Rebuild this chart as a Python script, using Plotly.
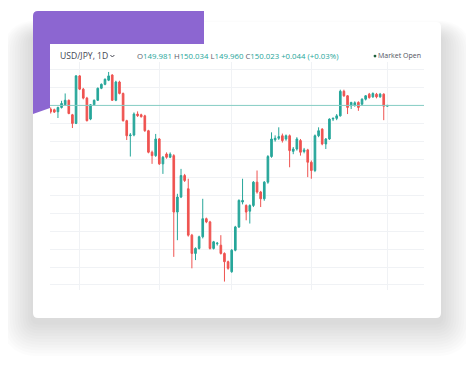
import plotly.graph_objects as go

# ---------------- data ----------------
opens = [149.81, 149.78, 149.67, 149.91, 150.06, 150.31, 149.50, 149.02, 151.67, 150.93,
         150.43, 149.26, 150.06, 150.31, 150.98, 151.20, 151.43, 151.72, 150.31, 151.33,
         150.69, 149.17, 148.33, 148.37, 149.54, 149.50, 149.44, 148.61, 147.41, 147.22,
         148.15, 146.76, 147.31, 147.13, 147.22, 144.07, 144.91, 146.11, 145.37, 142.78,
         141.76, 142.04, 142.69, 143.70, 143.52, 142.04, 142.30, 142.22, 141.76, 141.30,
         140.74, 141.94, 143.24, 144.63, 144.44, 144.12, 144.44, 145.74, 145.19, 144.81,
         145.74, 147.17, 148.10, 148.19, 148.33, 148.15, 148.33, 147.46, 147.59, 148.06,
         147.45, 147.54, 146.85, 146.39, 148.33, 148.70, 147.87, 148.15, 149.26, 149.30,
         149.44, 150.81, 150.56, 150.00, 150.02, 150.19, 150.09, 150.37, 150.65, 150.50,
         150.65, 150.50, 150.65, 149.981]
highs = [149.91, 149.84, 149.95, 150.28, 150.69, 150.35, 149.55, 151.72, 151.72, 151.00,
         150.50, 150.10, 150.35, 151.02, 151.25, 151.53, 151.89, 151.76, 151.40, 151.40,
         150.74, 149.22, 148.48, 149.63, 149.69, 149.56, 149.50, 148.66, 147.50, 148.43,
         148.20, 147.20, 147.40, 147.40, 147.30, 145.09, 146.48, 146.20, 145.93, 142.85,
         142.10, 142.75, 144.81, 143.76, 143.58, 142.46, 142.40, 142.78, 141.82, 141.36,
         142.00, 143.30, 144.78, 145.93, 144.50, 144.50, 145.80, 146.39, 145.25, 145.80,
         147.25, 148.52, 148.35, 148.80, 148.45, 148.40, 148.40, 147.70, 148.25, 148.15,
         147.65, 147.60, 146.95, 148.40, 148.80, 148.75, 148.20, 149.30, 149.35, 149.54,
         150.90, 150.90, 150.60, 150.22, 150.25, 150.25, 150.42, 150.60, 150.72, 150.75,
         150.72, 150.72, 150.70, 150.034]
lows = [149.57, 149.60, 149.32, 149.85, 150.02, 149.53, 148.76, 148.98, 150.88, 150.36,
        149.13, 149.20, 150.00, 150.27, 150.93, 151.15, 151.38, 150.27, 150.26, 150.64,
        149.12, 148.09, 147.17, 148.30, 149.38, 149.35, 148.55, 147.35, 146.76, 147.15,
        146.70, 146.20, 147.05, 147.08, 141.57, 142.50, 144.85, 145.75, 142.70, 140.93,
        141.39, 141.98, 142.60, 143.45, 141.98, 141.98, 142.20, 141.70, 140.19, 140.85,
        140.68, 141.88, 143.18, 144.50, 143.61, 143.43, 144.35, 145.10, 144.35, 144.70,
        145.65, 147.10, 148.00, 148.10, 147.95, 148.05, 146.57, 147.30, 147.50, 147.22,
        147.35, 146.02, 145.93, 146.30, 148.25, 147.80, 147.59, 148.10, 149.15, 149.20,
        149.40, 150.50, 149.54, 149.82, 149.95, 149.72, 150.00, 150.30, 150.40, 150.45,
        150.42, 150.45, 149.20, 149.960]
closes = [149.67, 149.65, 149.91, 150.13, 150.31, 149.57, 149.02, 151.67, 150.93, 150.43,
          149.17, 150.06, 150.31, 150.98, 151.20, 151.48, 151.67, 150.31, 151.33, 150.69,
          149.17, 148.33, 148.37, 149.54, 149.45, 149.39, 148.61, 147.41, 147.22, 148.15,
          146.76, 147.13, 147.13, 147.30, 144.07, 144.91, 146.11, 145.83, 142.78, 141.76,
          142.04, 142.69, 143.70, 143.52, 142.04, 142.41, 142.33, 141.76, 141.30, 140.93,
          141.94, 143.24, 144.72, 144.72, 144.07, 144.44, 145.74, 145.19, 144.81, 145.74,
          147.17, 148.15, 148.19, 148.28, 148.06, 148.33, 147.50, 147.59, 148.15, 147.41,
          147.54, 146.85, 146.39, 148.33, 148.61, 147.87, 148.15, 149.26, 149.30, 149.44,
          150.81, 150.56, 149.91, 150.19, 150.17, 149.91, 150.37, 150.56, 150.46, 150.69,
          150.50, 150.65, 149.98, 150.023]
days = list(range(len(opens)))
month_starts = [8, 30, 50, 72, 93]
last_price = 150.023

symbol_label = "USD/JPY, 1D"
ohlc_labels = [("O", "149.981"), ("H", "150.034"), ("L", "149.960"), ("C", "150.023")]
change_label = "+0.044 (+0.03%)"
status_label = "Market Open"

# ---------------- style ----------------
GREEN = "#26a69a"
RED = "#ef5350"
PURPLE = "#8c66d1"
GRID = "#f0f2f5"
FONT = "Open Sans"

OFF = 8                       # page body margin of the html page
W, H = 474 - OFF, 373 - OFF
# plot area, in window pixels
PL, PR, PT, PB = 50, 424, 62, 290


def px(x):
    return (x - PL) / (PR - PL)


def py(y):
    return (PB - y) / (PB - PT)


def rrect(x0, y0, x1, y1, r):
    rx, ry = r / (PR - PL), r / (PB - PT)
    X0, X1, Y0, Y1 = px(x0), px(x1), py(y0), py(y1)
    return (f"M{X0+rx},{Y0} L{X1-rx},{Y0} Q{X1},{Y0} {X1},{Y0-ry} "
            f"L{X1},{Y1+ry} Q{X1},{Y1} {X1-rx},{Y1} L{X0+rx},{Y1} "
            f"Q{X0},{Y1} {X0},{Y1+ry} L{X0},{Y0-ry} Q{X0},{Y0} {X0+rx},{Y0} Z")


fig = go.Figure(go.Candlestick(
    x=days, open=opens, high=highs, low=lows, close=closes,
    increasing=dict(line=dict(color=GREEN, width=1), fillcolor=GREEN),
    decreasing=dict(line=dict(color=RED, width=1), fillcolor=RED),
    whiskerwidth=0, hoverinfo="skip", showlegend=False,
))

shapes = []
for i in range(1, 13):
    e = 2.6 * i
    shapes.append(dict(type="path", xref="paper", yref="paper", layer="below",
                       path=rrect(33 - e, 36 - e * 0.5, 441 + e, 322 + e * 1.1, 6 + e),
                       fillcolor="rgba(0,0,0,0.011)", line=dict(width=0)))
shapes.append(dict(type="path", xref="paper", yref="paper", layer="below",
                   path=rrect(33, 22, 441, 318, 5), fillcolor="white", line=dict(width=0)))
r = 5
shapes.append(dict(type="path", xref="paper", yref="paper", layer="below",
                   path=(f"M{px(33)},{py(11 + r)} Q{px(33)},{py(11)} {px(33 + r)},{py(11)} "
                         f"L{px(204)},{py(11)} L{px(204)},{py(44)} L{px(50)},{py(44)} "
                         f"L{px(50)},{py(108)} L{px(33)},{py(114)} Z"),
                   fillcolor=PURPLE, line=dict(width=0)))
shapes.append(dict(type="line", xref="paper", yref="y", x0=0, x1=1, y0=last_price, y1=last_price,
                   line=dict(color="#86cdc4", width=1), layer="above"))
shapes.append(dict(type="path", xref="paper", yref="paper",
                   path=f"M{px(110.4)},{py(55)} L{px(112.4)},{py(57)} L{px(114.4)},{py(55)}",
                   line=dict(color="#434651", width=1)))
shapes.append(dict(type="circle", xref="paper", yref="paper",
                   x0=px(373.6), x1=px(376.4), y0=py(57.5), y1=py(54.7),
                   fillcolor="#1f5e3a", line=dict(width=0)))

ohlc_html = " ".join(f"<span style='color:#5d606b'>{k}</span><span style='color:{GREEN}'>{v}</span>"
                     for k, v in ohlc_labels)
ohlc_html += f" <span style='color:{GREEN}'>{change_label}</span>"

annotations = [
    dict(x=px(57.5), y=py(56), xref="paper", yref="paper", text=symbol_label, showarrow=False,
         xanchor="left", yanchor="middle", font=dict(family=FONT, size=8.6, color="#434651")),
    dict(x=px(134.5), y=py(56), xref="paper", yref="paper", text=ohlc_html, showarrow=False,
         xanchor="left", yanchor="middle", font=dict(family=FONT, size=7.8, color=GREEN)),
    dict(x=px(422.5), y=py(56), xref="paper", yref="paper", text=status_label, showarrow=False,
         xanchor="right", yanchor="middle", font=dict(family=FONT, size=7.0, color="#50535e")),
]

fig.update_layout(
    width=W, height=H,
    margin=dict(l=PL - OFF, r=474 - PR, t=PT - OFF, b=373 - PB, pad=0),
    paper_bgcolor="white", plot_bgcolor="rgba(0,0,0,0)",
    shapes=shapes, annotations=annotations,
    boxgap=0.35,
    xaxis=dict(range=[(PL - 50.7) / 3.62, (PR - 50.7) / 3.62], tickvals=month_starts,
               showgrid=True, gridcolor=GRID, gridwidth=1, showticklabels=False,
               zeroline=False, showline=False, ticks="", rangeslider=dict(visible=False),
               fixedrange=True),
    yaxis=dict(range=[139.72, 152.446], tick0=140, dtick=1, showgrid=True, gridcolor=GRID,
               gridwidth=1, showticklabels=False, zeroline=False, showline=False, ticks="",
               fixedrange=True),
    font=dict(family=FONT),
)

fig.write_html("out.html")
